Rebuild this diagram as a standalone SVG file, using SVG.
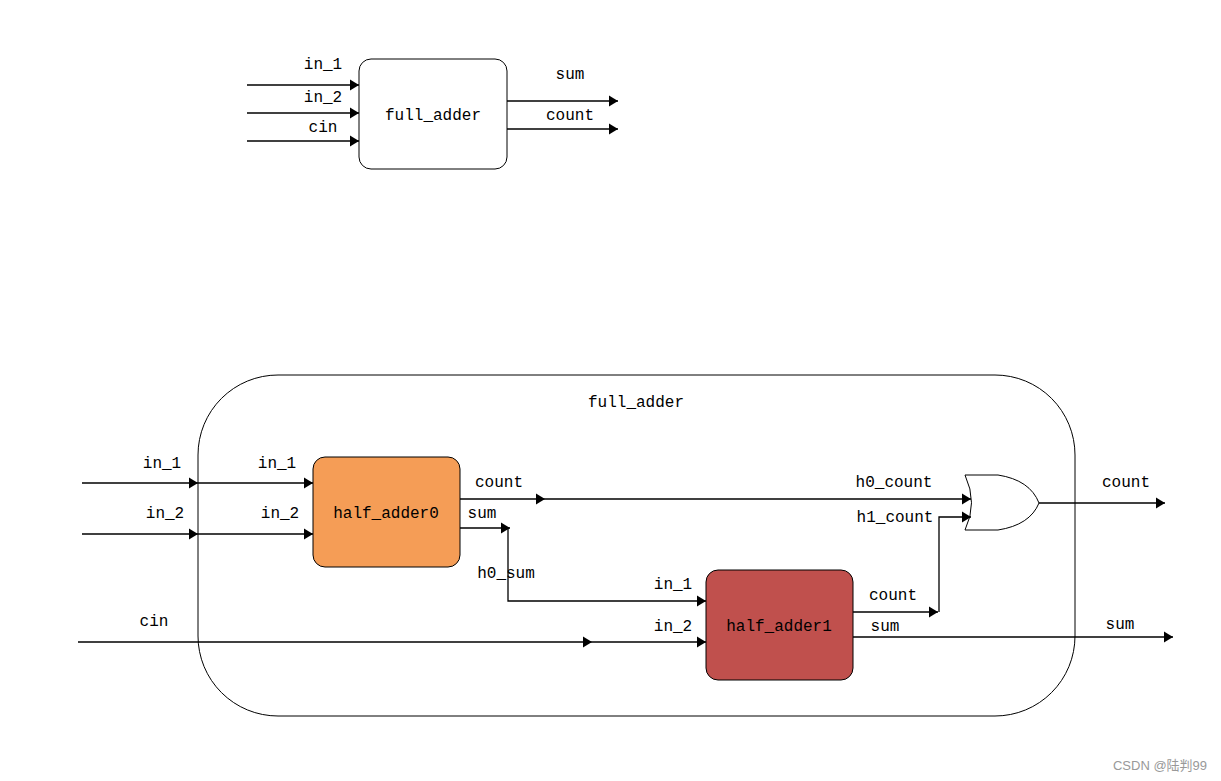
<svg xmlns="http://www.w3.org/2000/svg" width="1221" height="781" viewBox="0 0 1221 781">
<style>
text{font-family:"Liberation Mono","DejaVu Sans Mono",monospace;font-size:16px;fill:#000;text-anchor:middle}
.w{stroke:#000;stroke-width:1.3;fill:none}
.b{stroke:#000;stroke-width:1;}
</style>
<defs><marker id="a" viewBox="0 0 10 12" refX="10" refY="6" markerWidth="9" markerHeight="12" markerUnits="userSpaceOnUse" orient="auto"><path d="M0,0L10,6L0,12z" fill="#000"/></marker></defs>
<rect width="1221" height="781" fill="#fff"/>
<g id="top_full_adder"><rect class="b" x="359" y="59" width="148" height="110" rx="12" fill="#fff"/><text x="433" y="120">full_adder</text></g>
<g id="full_adder_container"><rect class="b" x="198" y="375" width="877" height="341" rx="80" fill="none"/><text x="636" y="407">full_adder</text></g>
<g id="half_adder0"><rect class="b" x="313" y="457" width="147" height="110" rx="12" fill="#F59D56"/><text x="386" y="518">half_adder0</text></g>
<g id="half_adder1"><rect class="b" x="706" y="570" width="147" height="110" rx="12" fill="#C0504D"/><text x="779" y="631">half_adder1</text></g>
<g id="or_gate"><path class="b" fill="#fff" d="M965,475 L998,475 Q1030,480 1039,503 Q1030,525 998,530 L965,530 Q978,503 965,475z"/></g>
<g id="connectors">
<path class="w" d="M247,85H359" marker-end="url(#a)"/>
<path class="w" d="M247,113H359" marker-end="url(#a)"/>
<path class="w" d="M247,141H359" marker-end="url(#a)"/>
<path class="w" d="M507,101H618" marker-end="url(#a)"/>
<path class="w" d="M507,129H618" marker-end="url(#a)"/>
<path class="w" d="M82,483H198" marker-end="url(#a)"/><path class="w" d="M198,483H313" marker-end="url(#a)"/>
<path class="w" d="M82,534H198" marker-end="url(#a)"/><path class="w" d="M198,534H313" marker-end="url(#a)"/>
<path class="w" d="M78,642H592" marker-end="url(#a)"/><path class="w" d="M592,642H706" marker-end="url(#a)"/>
<path class="w" d="M460,499H545" marker-end="url(#a)"/><path class="w" d="M545,499H971" marker-end="url(#a)"/>
<path class="w" d="M460,528H510" marker-end="url(#a)"/>
<path class="w" d="M508,528V601H706" marker-end="url(#a)"/>
<path class="w" d="M853,612H938" marker-end="url(#a)"/>
<path class="w" d="M939,612V517H971" marker-end="url(#a)"/>
<path class="w" d="M1039,503H1165" marker-end="url(#a)"/>
<path class="w" d="M853,637H1173" marker-end="url(#a)"/>
</g>
<g id="labels">
<text x="323" y="69">in_1</text><text x="323" y="102">in_2</text><text x="323" y="132">cin</text>
<text x="570" y="79">sum</text><text x="570" y="120">count</text>
<text x="162" y="468">in_1</text><text x="277" y="468">in_1</text>
<text x="165" y="518">in_2</text><text x="280" y="518">in_2</text>
<text x="154" y="626">cin</text><text x="673" y="631">in_2</text>
<text x="499" y="487">count</text><text x="894" y="487">h0_count</text>
<text x="482" y="518">sum</text><text x="506" y="578">h0_sum</text><text x="673" y="589">in_1</text>
<text x="893" y="600">count</text><text x="895" y="522">h1_count</text>
<text x="1126" y="487">count</text>
<text x="885" y="631">sum</text><text x="1120" y="629">sum</text>
<text x="1160" y="770" style="font-family:'Liberation Sans','Noto Sans CJK SC',sans-serif;font-size:13px;fill:#999">CSDN @陆判99</text>
</g>
</svg>
